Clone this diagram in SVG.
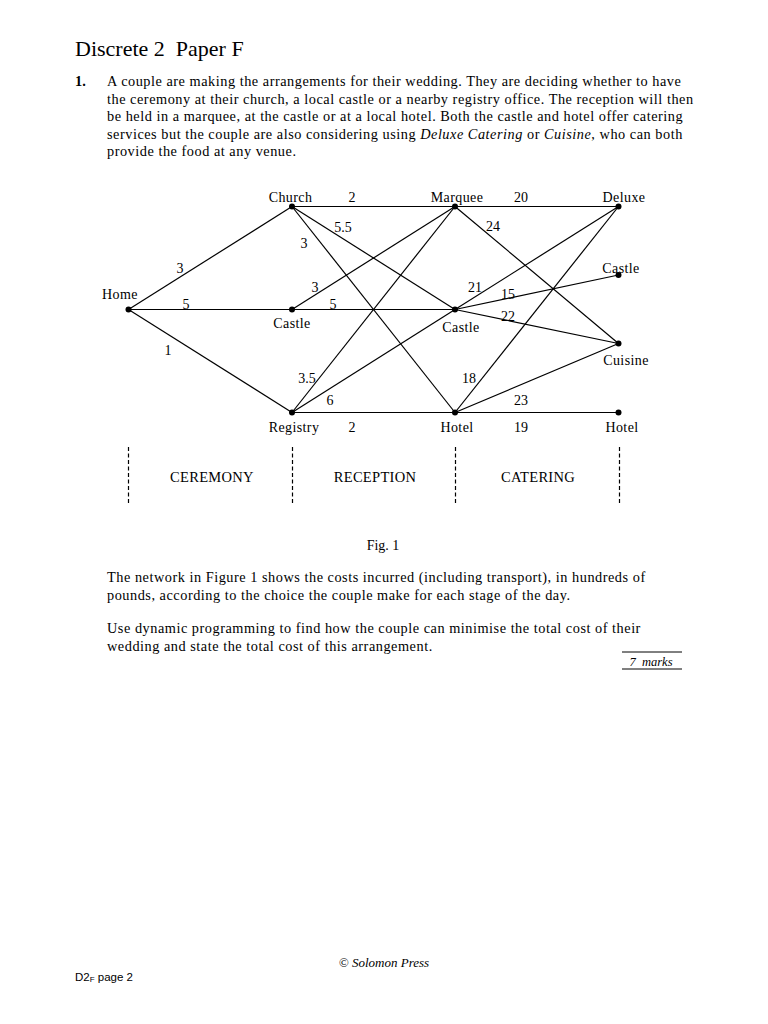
<svg xmlns="http://www.w3.org/2000/svg" width="768" height="1024" viewBox="0 0 768 1024">
<style>
text{font-family:"Liberation Serif","Times New Roman",serif;fill:#000}
.body{font-size:14.3px;letter-spacing:0.52px}
.lbl{font-size:14px;text-anchor:middle;letter-spacing:0.4px}
.w{font-size:14px;text-anchor:middle}
.sec{font-size:14.5px;text-anchor:middle;letter-spacing:0.3px}
.edge{stroke:#000;stroke-width:1.2;fill:none}
.dash{stroke:#000;stroke-width:1.2;stroke-dasharray:4 2.5}
.dot{fill:#000}
</style>
<rect width="768" height="1024" fill="#fff"/>
<text x="75" y="56" font-size="22" style="white-space:pre">Discrete 2  Paper F</text>
<text x="75" y="86" font-size="14.3" font-weight="bold">1.</text>
<text class="body">
<tspan x="107" y="86">A couple are making the arrangements for their wedding. They are deciding whether to have</tspan>
<tspan x="107" y="103.5">the ceremony at their church, a local castle or a nearby registry office. The reception will then</tspan>
<tspan x="107" y="121">be held in a marquee, at the castle or at a local hotel. Both the castle and hotel offer catering</tspan>
<tspan x="107" y="138.5">services but the couple are also considering using <tspan font-style="italic">Deluxe Catering</tspan> or <tspan font-style="italic">Cuisine</tspan>, who can both</tspan>
<tspan x="107" y="156">provide the food at any venue.</tspan>
</text>
<g id="connectors">
<line class="edge" x1="128.5" y1="309.5" x2="292" y2="206.5"/>
<line class="edge" x1="128.5" y1="309.5" x2="292" y2="309.5"/>
<line class="edge" x1="128.5" y1="309.5" x2="292" y2="412.5"/>
<line class="edge" x1="292" y1="206.5" x2="455" y2="206.5"/>
<line class="edge" x1="292" y1="206.5" x2="455" y2="309.5"/>
<line class="edge" x1="292" y1="206.5" x2="455" y2="412.5"/>
<line class="edge" x1="292" y1="309.5" x2="455" y2="206.5"/>
<line class="edge" x1="292" y1="309.5" x2="455" y2="309.5"/>
<line class="edge" x1="292" y1="412.5" x2="455" y2="206.5"/>
<line class="edge" x1="292" y1="412.5" x2="455" y2="309.5"/>
<line class="edge" x1="292" y1="412.5" x2="455" y2="412.5"/>
<line class="edge" x1="455" y1="206.5" x2="618.5" y2="206.5"/>
<line class="edge" x1="455" y1="206.5" x2="618.5" y2="343.5"/>
<line class="edge" x1="455" y1="309.5" x2="618.5" y2="206.5"/>
<line class="edge" x1="455" y1="309.5" x2="618.5" y2="275"/>
<line class="edge" x1="455" y1="309.5" x2="618.5" y2="343.5"/>
<line class="edge" x1="455" y1="412.5" x2="618.5" y2="206.5"/>
<line class="edge" x1="455" y1="412.5" x2="618.5" y2="343.5"/>
<line class="edge" x1="455" y1="412.5" x2="618.5" y2="412.5"/>
</g>
<g id="weights">
<text class="w" x="180" y="273">3</text>
<text class="w" x="186" y="309">5</text>
<text class="w" x="168" y="355">1</text>
<text class="w" x="352" y="202">2</text>
<text class="w" x="343" y="232">5.5</text>
<text class="w" x="304" y="248">3</text>
<text class="w" x="315" y="292">3</text>
<text class="w" x="333" y="309">5</text>
<text class="w" x="307" y="383">3.5</text>
<text class="w" x="330" y="405">6</text>
<text class="w" x="352" y="432">2</text>
<text class="w" x="521" y="202">20</text>
<text class="w" x="493" y="231">24</text>
<text class="w" x="475" y="292">21</text>
<text class="w" x="508" y="299">15</text>
<text class="w" x="508" y="321">22</text>
<text class="w" x="469" y="383">18</text>
<text class="w" x="521" y="405">23</text>
<text class="w" x="521" y="432">19</text>
</g>
<g id="home"><circle class="dot" cx="128.5" cy="309.5" r="3"/><text class="lbl" x="120" y="299">Home</text></g>
<g id="church"><circle class="dot" cx="292" cy="206.5" r="3"/><text class="lbl" x="290.5" y="202">Church</text></g>
<g id="castle-ceremony"><circle class="dot" cx="292" cy="309.5" r="3"/><text class="lbl" x="292" y="328">Castle</text></g>
<g id="registry"><circle class="dot" cx="292" cy="412.5" r="3"/><text class="lbl" x="294" y="432">Registry</text></g>
<g id="marquee"><circle class="dot" cx="455" cy="206.5" r="3"/><text class="lbl" x="457" y="202">Marquee</text></g>
<g id="castle-reception"><circle class="dot" cx="455" cy="309.5" r="3"/><text class="lbl" x="461" y="332">Castle</text></g>
<g id="hotel-reception"><circle class="dot" cx="455" cy="412.5" r="3"/><text class="lbl" x="457" y="432">Hotel</text></g>
<g id="deluxe"><circle class="dot" cx="618.5" cy="206.5" r="3"/><text class="lbl" x="624" y="202">Deluxe</text></g>
<g id="castle-catering"><circle class="dot" cx="618.5" cy="275" r="3"/><text class="lbl" x="621" y="273">Castle</text></g>
<g id="cuisine"><circle class="dot" cx="618.5" cy="343.5" r="3"/><text class="lbl" x="626" y="365">Cuisine</text></g>
<g id="hotel-catering"><circle class="dot" cx="618.5" cy="412.5" r="3"/><text class="lbl" x="622" y="432">Hotel</text></g>
<g id="stages">
<line class="dash" x1="128.5" y1="447" x2="128.5" y2="504"/>
<line class="dash" x1="292.5" y1="447" x2="292.5" y2="504"/>
<line class="dash" x1="455.5" y1="447" x2="455.5" y2="504"/>
<line class="dash" x1="619.5" y1="447" x2="619.5" y2="504"/>
<text class="sec" x="212" y="482">CEREMONY</text>
<text class="sec" x="375" y="482">RECEPTION</text>
<text class="sec" x="538" y="482">CATERING</text>
</g>
<text x="383" y="550" font-size="14" text-anchor="middle">Fig. 1</text>
<text class="body">
<tspan x="107" y="582">The network in Figure 1 shows the costs incurred (including transport), in hundreds of</tspan>
<tspan x="107" y="599.5">pounds, according to the choice the couple make for each stage of the day.</tspan>
<tspan x="107" y="633">Use dynamic programming to find how the couple can minimise the total cost of their</tspan>
<tspan x="107" y="650.5">wedding and state the total cost of this arrangement.</tspan>
</text>
<line x1="622" y1="652" x2="682" y2="652" stroke="#000" stroke-width="1"/>
<text x="651" y="666" font-size="12.5" font-style="italic" text-anchor="middle" style="white-space:pre">7  marks</text>
<line x1="622" y1="669" x2="682" y2="669" stroke="#000" stroke-width="1"/>
<text x="384" y="967" font-size="13" font-style="italic" text-anchor="middle">© Solomon Press</text>
<text x="75" y="981" font-size="11.5" style="font-family:'Liberation Sans',Arial,sans-serif">D2<tspan font-size="8" dy="1">F</tspan><tspan dy="-1"> page 2</tspan></text>
</svg>
